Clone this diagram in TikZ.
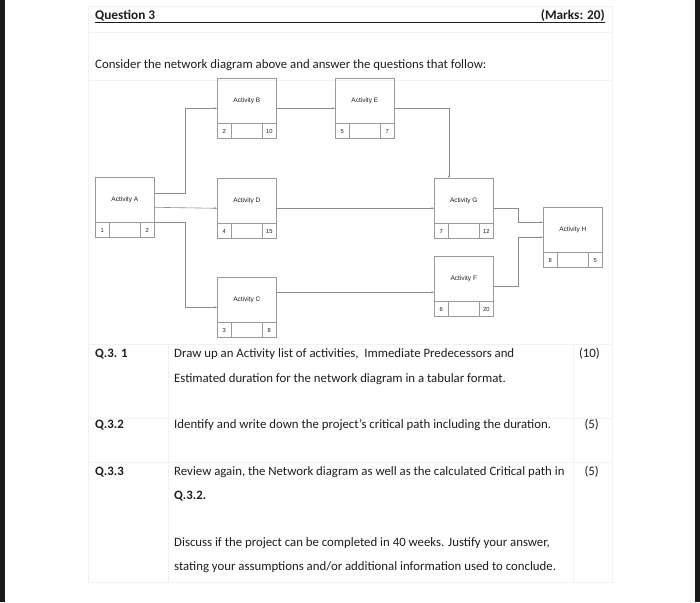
\documentclass[tikz,border=0pt]{standalone}
\usepackage{fontspec}
\setmainfont{Carlito}
\newfontfamily\arialfont{Liberation Sans}
\usetikzlibrary{calc,arrows.meta}
\definecolor{boxgray}{HTML}{9A9A9A}
\definecolor{conngray}{HTML}{8C8C8C}
\definecolor{faint}{HTML}{F2F2F2}
\definecolor{txt}{HTML}{1E1E1E}
\definecolor{bar}{HTML}{1A1A1A}
\tikzset{
  act/.style={draw=boxgray, line width=0.6pt, minimum width=59pt, minimum height=60pt, inner sep=0pt, anchor=north west},
  boxline/.style={draw=boxgray, line width=0.6pt},
  actlbl/.style={font=\arialfont\fontsize{6.5}{7}\selectfont, text=txt, inner sep=0pt},
  cellnum/.style={font=\arialfont\fontsize{5.8}{7}\selectfont, text=txt, inner sep=0pt},
  conn/.style={draw=conngray, line width=0.6pt, -{Stealth[length=2.6pt,width=2.2pt]}},
  body/.style={font=\fontsize{12.8}{14}\selectfont, text=txt, inner sep=0pt, anchor=base west},
  bodyb/.style={font=\fontsize{12.8}{14}\selectfont\bfseries, text=txt, inner sep=0pt, anchor=base west},
  marks/.style={font=\fontsize{12.8}{14}\selectfont, text=txt, inner sep=0pt, anchor=base east},
  tbl/.style={draw=faint, line width=0.6pt}
}
\newcommand\activity[6]{%
  \node[act] (#1) at (#2,#3) {};
  \node[actlbl] (#1lbl) at ($(#1.north)+(0,23)$) {#4};
  \draw[boxline] ($(#1.south west)+(0,-15)$) -- ($(#1.south east)+(0,-15)$);
  \draw[boxline] ($(#1.south west)+(14.5,0)$) -- ($(#1.south west)+(14.5,-15)$);
  \draw[boxline] ($(#1.south east)+(-14.5,0)$) -- ($(#1.south east)+(-14.5,-15)$);
  \node[cellnum] (#1es) at ($(#1.south west)+(7.25,-7.5)$) {#5};
  \node[cellnum] (#1du) at ($(#1.south east)+(-7.25,-7.5)$) {#6};
}
\begin{document}
\begin{tikzpicture}[x=1pt,y=-1pt]
\useasboundingbox (0,0) rectangle (700,602);
\fill[white] (0,0) rectangle (700,602);
% side bars
\fill[bar] (0,0) rectangle (5,602);
\fill[bar] (695,0) rectangle (700,602);
% faint table grid
\draw[tbl] (88,6) rectangle (612,582);
\draw[tbl] (88,32) -- (612,32);
\draw[tbl] (88,80) -- (612,80);
\draw[tbl] (88,344) -- (612,344);
\draw[tbl] (88,418) -- (612,418);
\draw[tbl] (88,462) -- (612,462);
\draw[tbl] (168,344) -- (168,582);
\draw[tbl] (573,344) -- (573,582);
% title
\node[bodyb, font=\fontsize{13.3}{15}\selectfont\bfseries] (title) at (95,20) {Question 3};
\node[marks, font=\fontsize{13.3}{15}\selectfont\bfseries] (tmarks) at (605,20) {(Marks: 20)};
\draw[txt, line width=0.8pt] (95,22.5) -- (605,22.5);
\node[body] (intro) at (95,68) {Consider the network diagram above and answer the questions that follow:};
% activities
\activity{A}{95}{177}{Activity A}{1}{2}
\activity{B}{217}{78}{Activity B}{2}{10}
\activity{E}{335}{78}{Activity E}{5}{7}
\activity{D}{217}{178}{Activity D}{4}{15}
\activity{G}{434}{178}{Activity G}{7}{12}
\activity{H}{543}{207}{Activity H}{8}{5}
\activity{F}{434}{256}{Activity F}{6}{20}
\activity{C}{217}{277}{Activity C}{3}{8}
\coordinate (ja) at (185,0);
\coordinate (jh) at (518,0);
% connectors
\draw[conn] ($(A.east)+(0,-14.5)$) -| (ja |- B.west) -- (B.west);
\draw[conn] (A.east) -- (D.west);
\draw[conn] ($(A.east)+(0,15)$) -| (ja |- C.west) -- (C.west);
\draw[conn] (B.east) -- (E.west);
\draw[conn] (E.east) -| ($(G.north west)+(15,0)$);
\draw[conn] (D.east) -- (G.west);
\draw[conn] (G.east) -| ($(jh |- H.west)+(0,-15)$) -- ($(H.west)+(0,-15)$);
\draw[conn] (F.east) -| (jh |- H.west) -- (H.west);
\draw[conn] ($(C.east)+(0,-15)$) coordinate (cf) -- (F.west |- cf);
% questions
\node[bodyb] (q1) at (95,357) {Q.3. 1};
\node[body] (q1a) at (174,357) {Draw up an Activity list of activities,\ \ Immediate Predecessors and};
\node[body] (q1b) at (174,382) {Estimated duration for the network diagram in a tabular format.};
\node[marks] (m1) at (600,357) {(10)};
\node[bodyb] (q2) at (95,428) {Q.3.2};
\node[body] (q2a) at (174,428) {Identify and write down the project’s critical path including the duration.};
\node[marks] (m2) at (599,428) {(5)};
\node[bodyb] (q3) at (95,475) {Q.3.3};
\node[body] (q3a) at (174,475) {Review again, the Network diagram as well as the calculated Critical path in};
\node[bodyb] (q3b) at (174,499) {Q.3.2.};
\node[marks] (m3) at (599,475) {(5)};
\node[body] (q3c) at (174,546) {Discuss if the project can be completed in 40 weeks. Justify your answer,};
\node[body] (q3d) at (174,570) {stating your assumptions and/or additional information used to conclude.};
\end{tikzpicture}
\end{document}
